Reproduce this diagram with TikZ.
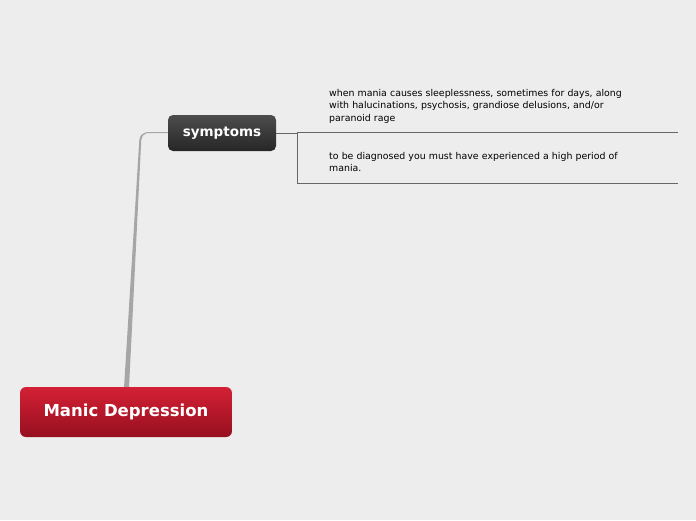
\documentclass[tikz,border=0pt]{standalone}
\usepackage{fontspec}
\setmainfont{DejaVu Sans}
\definecolor{rtop}{RGB}{212,32,52}
\definecolor{rbot}{RGB}{150,16,32}
\begin{document}
\begin{tikzpicture}[x=1pt,y=-1pt,
  rootbox/.style={rounded corners=6pt,top color=rtop,bottom color=rbot,draw=none,minimum width=212pt,minimum height=50pt,text=white,font=\bfseries\fontsize{16.5}{19}\selectfont},
  topicbox/.style={rounded corners=5pt,top color=black!70,bottom color=black!85,draw=none,minimum width=108pt,minimum height=36pt,text=white,font=\bfseries\fontsize{13.5}{15}\selectfont},
  leaf/.style={anchor=north west,align=left,font=\fontsize{9.4}{12.5}\selectfont,text width=340pt,inner sep=0pt},
  ln/.style={draw=black!60,line width=0.8pt}]
\fill[black!7] (0,0) rectangle (696,520);
\fill[black!35] (124,388) -- (129,388) -- (141,145) .. controls (141,136) and (143,133) .. (150,133) -- (168,133) -- (168,132) -- (150,132) .. controls (142,132) and (139,135) .. (139,145) -- cycle;
\node[rootbox] (root) at (126,412) {Manic Depression};
\node[topicbox] (sym) at (222,133) {symptoms};
\coordinate (j) at (297,133);
\coordinate (l1) at (678,132);
\coordinate (l2) at (678,183);
\draw[ln] (sym.east) -- (j);
\draw[ln] (297,132) -- (297,183);
\draw[ln] (297,132) -- (l1);
\draw[ln] (297,183) -- (l2);
\node[leaf] (t1) at (329,89) {when mania causes sleeplessness, sometimes for days, along\\with halucinations, psychosis, grandiose delusions, and/or\\paranoid rage};
\node[leaf] (t2) at (329,152) {to be diagnosed you must have experienced a high period of\\mania.};
\end{tikzpicture}
\end{document}
